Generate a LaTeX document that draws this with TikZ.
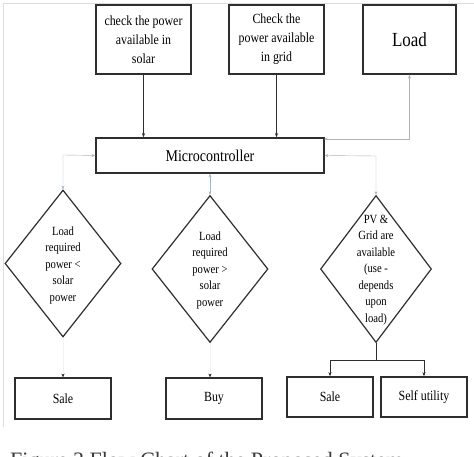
\documentclass[tikz,border=0pt]{standalone}
\usepackage{fontspec}
\setmainfont{Liberation Serif}
\newfontfamily\sqz[FakeStretch=0.85]{Liberation Serif}
\usepackage{tikz}
\usetikzlibrary{calc,arrows.meta,positioning,shapes.geometric}
\definecolor{linec}{HTML}{2E2E2E}
\definecolor{softc}{HTML}{A3B6C6}
\definecolor{framec}{HTML}{DCDCDC}
\definecolor{capc}{HTML}{3A3A3A}
\tikzset{
  ar/.style={-{Stealth[length=1.5mm,width=1.1mm]},linec,semithick},
  lar/.style={{Stealth[length=1.3mm,width=1mm]}-{Stealth[length=1.3mm,width=1mm]},softc,thin},
  tipar/.style={-{Stealth[linec,length=1.3mm,width=1.1mm]},black!5,thin},
  box/.style={draw=linec,line width=1.4pt,align=center,inner sep=0pt,font=\sqz\fontsize{14}{19}\selectfont},
  dia/.style={diamond,draw=linec,line width=1.2pt,inner sep=0pt,minimum width=116pt,minimum height=147pt},
  dtxt/.style={align=center,inner sep=0pt,font=\sqz\fontsize{12.5}{16.5}\selectfont}
}
\begin{document}
\begin{tikzpicture}[x=1pt,y=-1pt]
\useasboundingbox (0,0) rectangle (474,457);
\clip (0,0) rectangle (474,457);
\draw[framec] (3,427) -- (3,3) -- (474,3);

\node[box,minimum width=95pt,minimum height=69pt] (solar) at (143.5,39.5) {check the power\\available in\\solar};
\node[box,minimum width=95pt,minimum height=69pt] (grid) at (276.5,39.5) {Check the\\power available\\in grid};
\node[box,minimum width=93pt,minimum height=69pt,font=\sqz\fontsize{20}{24}\selectfont] (load) at (409.5,39.5) {Load};
\node[box,minimum width=228pt,minimum height=35pt,font=\sqz\fontsize{16.5}{20}\selectfont] (micro) at (210,155.5) {Microcontroller};

\node[dia] (d1) at (63,263.5) {};
\node[dtxt] (d1t) at (63,265) {Load\\required\\power <\\solar\\power};
\node[dia] (d2) at (210,269) {};
\node[dtxt] (d2t) at (210,270) {Load\\required\\power >\\solar\\power};
\node[dia,minimum width=111pt] (d3) at (376,269) {};
\node[dtxt] (d3t) at (376,270) {PV \&\\Grid are\\available\\(use -\\depends\\upon\\load)};

\node[box,minimum width=96pt,minimum height=41pt] (sale) at (63,398.5) {Sale};
\node[box,minimum width=96pt,minimum height=41pt] (buy) at (214,398.5) {Buy};
\node[box,minimum width=86pt,minimum height=40pt] (sale2) at (330,397) {Sale};
\node[box,minimum width=86pt,minimum height=40pt] (self) at (424,397) {Self utility};

\coordinate (lt) at (63,155);
\coordinate (rt) at (376,156);
\coordinate (mld) at (324,139);
\coordinate (fork) at (376,360);

\draw[ar] (solar.south) -- (solar.south |- micro.north);
\draw[ar] (grid.south) -- (grid.south |- micro.north);
\draw[lar] (load.south) |- (mld);
\draw[lar] (d1.north) -- (lt) -- (micro.west);
\draw[lar] (micro.south) -- (d2.north);
\draw[lar] (d3.north) -- (rt) -- (micro.east);

\draw[tipar] (d1.south) -- (sale.north);
\draw[tipar] (d2.south) -- (d2.south |- buy.north);
\draw[linec,semithick] (d3.south) -- (fork);
\draw[ar] (fork) -| (sale2.north);
\draw[ar] (fork) -| (self.north);

\node[anchor=base west,inner sep=0pt,text=capc,font=\fontsize{22}{25}\selectfont] (cap) at (10,467) {Figure 3 Flow Chart of the Proposed System};
\end{tikzpicture}
\end{document}
